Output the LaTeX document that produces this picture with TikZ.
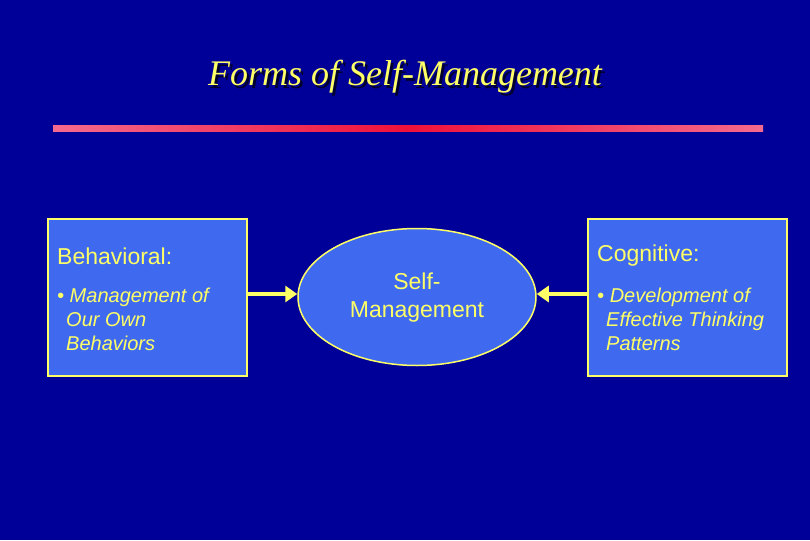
\documentclass[tikz,border=0pt]{standalone}
\usepackage{fontspec}
\setmainfont{Liberation Sans}
\newfontfamily\titlefont{Liberation Serif}
\usetikzlibrary{shapes.geometric,arrows.meta}
\definecolor{bg}{HTML}{000099}
\definecolor{boxfill}{HTML}{3F6AF0}
\definecolor{ylw}{HTML}{FFFF66}
\definecolor{pinkc}{HTML}{F46A8E}
\definecolor{redc}{HTML}{F0103A}
\tikzset{
 panel/.style={draw=ylw,line width=1.5pt,fill=boxfill,minimum width=199pt,minimum height=157pt,anchor=north west},
 txt/.style={text=ylw,anchor=west,inner sep=0pt},
 conn/.style={draw=ylw,line width=4pt,-{Triangle[length=12pt,width=16pt]}}
}
\begin{document}
\begin{tikzpicture}[x=1pt,y=-1pt]
\fill[bg] (0,0) rectangle (810,540);
\useasboundingbox (0,0) rectangle (810,540);
\node[text=black!70!bg,font=\titlefont\itshape\fontsize{36}{40}\selectfont] at (407.5,79.5) {Forms of Self-Management};
\node (title) [text=ylw,font=\titlefont\itshape\fontsize{36}{40}\selectfont] at (405,77) {Forms of Self-Management};
\shade[left color=pinkc,right color=redc] (53,126) rectangle (408,132);
\shade[left color=redc,right color=pinkc] (408,126) rectangle (763,132);
\node (L) [panel] at (47,218) {};
\node (R) [panel] at (587,218) {};
\node (E) [ellipse,draw=ylw,line width=1.5pt,fill=boxfill,minimum width=238pt,minimum height=137pt] at (417,297) {};
\node[txt,font=\fontsize{23}{24}\selectfont] at (57,256) {Behavioral:};
\node[txt,font=\itshape\fontsize{20}{24}\selectfont,align=left,anchor=north west] at (57,288) {• Management of\\ \hspace*{9pt}Our Own\\ \hspace*{9pt}Behaviors};
\node[txt,font=\fontsize{23}{24}\selectfont] at (597,256) {Cognitive:};
\node[txt,font=\itshape\fontsize{20}{24}\selectfont,align=left,anchor=north west] at (597,288) {• Development of\\ \hspace*{9pt}Effective Thinking\\ \hspace*{9pt}Patterns};
\node[text=ylw,font=\fontsize{23}{28}\selectfont,align=center] at (417,298) {Self-\\Management};
\draw[conn] (L.east |- 0,294) -- (E.west |- 0,294);
\draw[conn] (R.west |- 0,294) -- (E.east |- 0,294);
\end{tikzpicture}
\end{document}
